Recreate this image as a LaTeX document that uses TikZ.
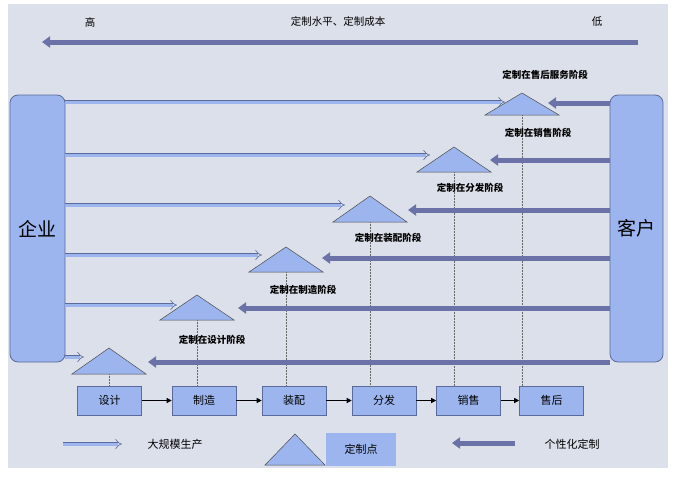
\documentclass[tikz,border=0pt]{standalone}
\usepackage{fontspec}
\setmainfont{Noto Sans CJK SC}
\usetikzlibrary{arrows.meta}
\definecolor{bg}{HTML}{DCE0EA}
\definecolor{bfill}{HTML}{9DB5EE}
\definecolor{bline}{HTML}{5A6A9A}
\definecolor{thick}{HTML}{6A72A8}
\begin{document}
\begin{tikzpicture}[x=1pt,y=-1pt,
  side/.style={draw=bline,fill=bfill,rounded corners=8pt,line width=0.8pt},
  stage/.style={draw=bline,fill=bfill,minimum width=64pt,minimum height=29pt,inner sep=0pt,font=\fontsize{11}{13}\selectfont,line width=0.6pt},
  tri/.style={draw=black!70,fill=bfill,line width=0.5pt},
  mass/.style={double=bfill,double distance=3pt,draw=bline,line width=0.6pt,-{Implies[length=5pt]}},
  pers/.style={draw=thick,line width=5pt,-{Triangle[length=8pt,width=11pt]}},
  lab/.style={font=\bfseries\fontsize{9.5}{11}\selectfont},
  dots/.style={densely dotted,black!60,line width=0.5pt},
  flow/.style={-{Triangle[length=5pt,width=5pt]},line width=1pt}]
\useasboundingbox (0,0) rectangle (676,477);
\fill[white] (0,0) rectangle (676,477);
\fill[bg] (8,4) rectangle (668,468);
\node[font=\fontsize{10.5}{12}\selectfont] (hi) at (90,22) {高};
\node[font=\fontsize{10.5}{12}\selectfont] (ti) at (338,22) {定制水平、定制成本};
\node[font=\fontsize{10.5}{12}\selectfont] (lo) at (597,22) {低};
\coordinate (ts) at (638,42); \coordinate (te) at (42,42);
\draw[pers] (ts) -- (te);
\node[side,minimum width=55pt,minimum height=267pt,font=\fontsize{19}{22}\selectfont] (ent) at (37.5,228.5) {企业};
\node[side,minimum width=53pt,minimum height=267pt,font=\fontsize{19}{22}\selectfont] (cus) at (636.5,228.5) {客户};
% stages
\node[stage] (s1) at (109.5,400.5) {设计};
\node[stage] (s2) at (204,400.5) {制造};
\node[stage] (s3) at (294,400.5) {装配};
\node[stage] (s4) at (384,400.5) {分发};
\node[stage] (s5) at (468.5,400.5) {销售};
\node[stage] (s6) at (551.5,400.5) {售后};
\foreach \a/\b in {s1/s2,s2/s3,s3/s4,s4/s5,s5/s6} \draw[flow] (\a) -- (\b);
% triangles: cx, base y, apex y
\foreach \cx/\by/\ay [count=\i] in {109/374/348,197/320/295,286/272/247,370/222/196,454/172/147,522/115/93}{
  \draw[tri] (\cx-37,\by) -- (\cx,\ay) -- (\cx+37,\by) -- cycle;
  \coordinate (t\i) at (\cx,\by);
}
\foreach \i/\s in {1/s1,2/s2,3/s3,4/s4,5/s5,6/s6} \draw[dots] (t\i) -- (t\i |- \s.north);
% mass arrows
\foreach \y/\x in {102/505,155/430,205/345,255/262,305/177,357/84}{
  \coordinate (ma) at (65,\y); \coordinate (mb) at (\x,\y);
  \draw[mass] (ma) -- (mb);
}
% personalised arrows
\foreach \y/\x in {103/548,160/490,210/408,258/322,308/238,362/148}{
  \coordinate (pa) at (610,\y); \coordinate (pb) at (\x,\y);
  \draw[pers] (pa) -- (pb);
}
\node[lab] (l6) at (545,75) {定制在售后服务阶段};
\node[lab] (l5) at (538,133) {定制在销售阶段};
\node[lab] (l4) at (470,188) {定制在分发阶段};
\node[lab] (l3) at (388,238) {定制在装配阶段};
\node[lab] (l2) at (303,290) {定制在制造阶段};
\node[lab] (l1) at (212,340) {定制在设计阶段};
% legend
\coordinate (la) at (63,444); \coordinate (lb) at (122,444);
\draw[mass] (la) -- (lb);
\node[font=\fontsize{11}{13}\selectfont] (lg1) at (175,444) {大规模生产};
\draw[tri] (265,465) -- (295,434) -- (325,465) -- cycle;
\node[fill=bfill,minimum width=70pt,minimum height=33pt,font=\fontsize{11}{13}\selectfont] (lg2) at (361,449) {定制点};
\coordinate (pc) at (515,443); \coordinate (pd) at (452,443);
\draw[pers] (pc) -- (pd);
\node[font=\fontsize{11}{13}\selectfont] (lg3) at (572,444) {个性化定制};
\end{tikzpicture}
\end{document}
